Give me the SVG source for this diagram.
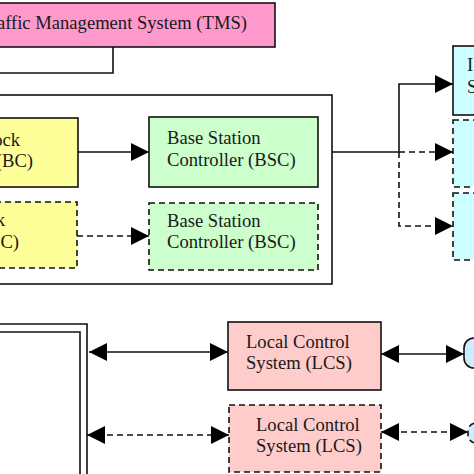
<svg xmlns="http://www.w3.org/2000/svg" width="474" height="474" viewBox="0 0 474 474">
<style>
.t{font-family:"Liberation Serif","Times New Roman",serif;font-size:18.6px;fill:#1a1a1a}
.b{stroke:#111;stroke-width:1.6}
.d{stroke-dasharray:6 4}
.ln{fill:none;stroke:#111;stroke-width:1.6}
</style>
<defs>
<marker id="ah" markerUnits="userSpaceOnUse" markerWidth="18" markerHeight="18" refX="18" refY="9" orient="auto-start-reverse">
<path d="M0,0 L18,9 L0,18 z" fill="#000"/>
</marker>
</defs>
<rect width="474" height="474" fill="#fff"/>
<g id="tms">
<rect class="b" x="-5" y="3" width="280" height="44" fill="#ff99cc"/>
<text class="t" x="247" y="29" text-anchor="end">affic Management System (TMS)</text>
</g>
<g id="group-box">
<rect class="b" x="-5" y="95" width="337" height="189" fill="none"/>
</g>
<g id="block1">
<rect class="b" x="-5" y="118" width="83" height="69" fill="#ffff99"/>
<text class="t" x="20" y="146" text-anchor="end">ock</text>
<text class="t" x="33" y="167" text-anchor="end">(BC)</text>
</g>
<g id="block2">
<rect class="b d" x="-5" y="202" width="82" height="66" fill="#ffff99"/>
<text class="t" x="5" y="226" text-anchor="end">k</text>
<text class="t" x="19" y="248" text-anchor="end">C)</text>
</g>
<g id="bsc1">
<rect class="b" x="149" y="117" width="169" height="70" fill="#ccffcc"/>
<text class="t" x="167" y="144">Base Station</text>
<text class="t" x="167" y="166">Controller (BSC)</text>
</g>
<g id="bsc2">
<rect class="b d" x="149" y="203" width="169" height="67" fill="#ccffcc"/>
<text class="t" x="167" y="227">Base Station</text>
<text class="t" x="167" y="248">Controller (BSC)</text>
</g>
<g id="bts1">
<rect class="b" x="453" y="46" width="30" height="69" fill="#ccffff"/>
<text class="t" x="467" y="71">I</text>
<text class="t" x="467" y="93">S</text>
</g>
<g id="bts2">
<rect class="b d" x="453" y="120" width="30" height="67" fill="#ccffff"/>
</g>
<g id="bts3">
<rect class="b d" x="453" y="193" width="30" height="67" fill="#ccffff"/>
</g>
<g id="lcs1">
<rect class="b" x="228" y="322" width="153" height="68" fill="#ffcccc"/>
<text class="t" x="246" y="348">Local Control</text>
<text class="t" x="246" y="369">System (LCS)</text>
</g>
<g id="lcs2">
<rect class="b d" x="229" y="405" width="152" height="67" fill="#ffcccc"/>
<text class="t" x="256" y="431">Local Control</text>
<text class="t" x="256" y="452">System (LCS)</text>
</g>
<g id="dev1">
<rect class="b" x="464" y="338" width="30" height="30" rx="10" fill="#ccecff"/>
</g>
<g id="dev2">
<rect class="b d" x="468" y="423" width="26" height="20" rx="8" fill="#ccecff"/>
</g>
<g id="connectors">
<polyline class="ln" points="113,47 113,73 -5,73"/>
<polyline class="ln" points="-5,324 87,324 87,480"/>
<polyline class="ln" points="-5,332 80,332 80,480"/>
<line class="ln" x1="78" y1="152" x2="149" y2="152" marker-end="url(#ah)"/>
<line class="ln d" x1="77" y1="236" x2="149" y2="236" marker-end="url(#ah)"/>
<polyline class="ln" points="332,152 399,152 399,84 453,84" marker-end="url(#ah)"/>
<line class="ln d" x1="399" y1="152" x2="453" y2="152" marker-end="url(#ah)"/>
<polyline class="ln d" points="399,152 399,226 453,226" marker-end="url(#ah)"/>
<line class="ln" x1="89" y1="352" x2="228" y2="352" marker-start="url(#ah)" marker-end="url(#ah)"/>
<line class="ln d" x1="87" y1="435" x2="229" y2="435" marker-start="url(#ah)" marker-end="url(#ah)"/>
<line class="ln" x1="381" y1="354" x2="464" y2="354" marker-start="url(#ah)" marker-end="url(#ah)"/>
<line class="ln d" x1="381" y1="432" x2="468" y2="432" marker-start="url(#ah)" marker-end="url(#ah)"/>
</g>
</svg>
